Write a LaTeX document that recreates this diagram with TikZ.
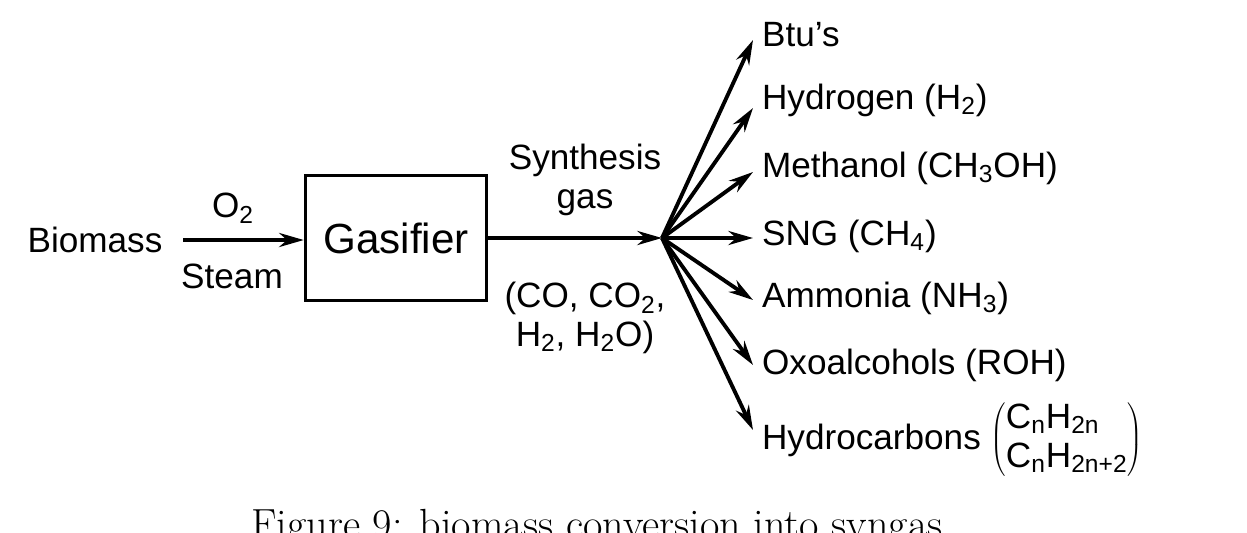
\documentclass[tikz,border=0pt]{standalone}
\usepackage{fontspec}
\setmainfont{Liberation Sans}
\newfontfamily\capfont{Latin Modern Roman}
\usetikzlibrary{arrows.meta}
\newcommand{\sub}[1]{\textsubscript{#1}}
\begin{document}
\begin{tikzpicture}[x=0.02cm,y=-0.02cm,
  lbl/.style={font=\fontsize{20}{22}\selectfont,inner sep=1pt},
  arr/.style={line width=2.2pt,-{Stealth[length=14pt,width=8pt]}},
  prod/.style={lbl,anchor=west}]
\useasboundingbox (0,0) rectangle (1247,532);
\node[lbl] (bio) at (95,240) {Biomass};
\node[draw,line width=2pt,minimum width=181*0.02cm,minimum height=125*0.02cm,lbl] (gas) at (396,238) {\fontsize{24}{26}\selectfont Gasifier};
\coordinate (hub) at (662,238);
\coordinate (bs) at (183,240);
\draw[arr] (bs) -- (gas.west |- bs);
\node[lbl] at (233,208) {O\sub{2}};
\node[lbl] at (232,276) {Steam};
\draw[arr] (gas.east) -- (hub);
\node[lbl,align=center] at (585,180) {Synthesis\\gas};
\node[lbl,align=center] at (585,318) {(CO, CO\sub{2},\\H\sub{2}, H\sub{2}O)};
\node[prod] (p1) at (760,35) {Btu's};
\node[prod] (p2) at (760,100) {Hydrogen (H\sub{2})};
\node[prod] (p3) at (760,168) {Methanol (CH\sub{3}OH)};
\node[prod] (p4) at (760,236) {SNG (CH\sub{4})};
\node[prod] (p5) at (760,298) {Ammonia (NH\sub{3})};
\node[prod] (p6) at (760,365) {Oxoalcohols (ROH)};
\node[prod] (p7) at (760,440) {Hydrocarbons $\left(\mbox{\begin{tabular}{@{}l@{}}C\sub{n}H\sub{2n}\\C\sub{n}H\sub{2n+2}\end{tabular}}\right)$};
\foreach \i/\y in {1/40,2/108,3/172,4/238,5/300,6/365,7/430}{
  \coordinate (t\i) at (753,\y);
  \draw[arr] (hub) -- (t\i);
}
\node[font=\capfont\fontsize{24}{26}\selectfont] (cap) at (597,528) {Figure 9: biomass conversion into syngas};
\end{tikzpicture}
\end{document}
